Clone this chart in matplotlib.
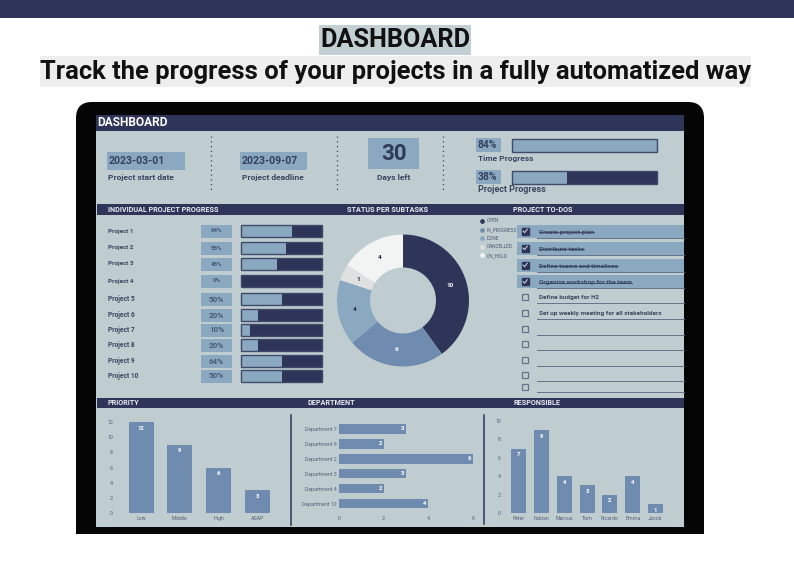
import math
import matplotlib
matplotlib.use("Agg")
import matplotlib.pyplot as plt
from matplotlib.patches import Rectangle, FancyBboxPatch

plt.rcParams['font.family'] = ['Roboto', 'DejaVu Sans']

W, H = 794, 567
NAVY = '#2f3459'
SCREEN = '#c0cdd0'
BOX = '#8aa8c0'
BAR = '#6f8cb0'
TXT = '#3a4560'
TICK = '#56617a'
RULE = '#64728a'

projects = ['Project 1', 'Project 2', 'Project 3', 'Project 4', 'Project 5',
            'Project 6', 'Project 7', 'Project 8', 'Project 9', 'Project 10']
project_labels = ['64%', '55%', '45%', '0%', '50%', '20%', '10%', '20%', '64%', '50%']
project_fill = [63, 55, 45, 0, 50, 21, 11, 21, 50, 50]

overall_names = ['Time Progress', 'Project Progress']
overall_labels = ['84%', '38%']
overall_fill = [100, 38]

status_names = ['OPEN', 'IN_PROGRESS', 'DONE', 'CANCELLED', 'ON_HOLD']
status_values = [10, 6, 4, 1, 4]
status_colors = [NAVY, BAR, BOX, '#dfe1e1', '#f2f3f3']
status_text = ['white', 'white', '#1f2540', '#1f2540', '#1f2540']

todos_done = ['Create project plan', 'Distribute tasks', 'Define teams and timelines',
              'Organize workshop for the team']
todos_open = ['Define budget for H2', 'Set up weekly meeting for all stakeholders',
              '', '', '', '', '']

priority_names = ['Low', 'Middle', 'High', 'ASAP']
priority_values = [12, 9, 6, 3]

dept_names = ['Department 7', 'Department 9', 'Department 2', 'Department 3',
              'Department 4', 'Department 10']
dept_values = [3, 2, 6, 3, 2, 4]

resp_names = ['Peter', 'Fabian', 'Marcus', 'Tom', 'Ricardo', 'Emma', 'Jacob']
resp_values = [7, 9, 4, 3, 2, 4, 1]

fig = plt.figure(figsize=(W / 100, H / 100), dpi=100, facecolor='white')


def px_axes(x0, y0, x1, y1, z=2):
    a = fig.add_axes([x0 / W, 1 - y1 / H, (x1 - x0) / W, (y1 - y0) / H], zorder=z)
    a.patch.set_alpha(0)
    return a


page = px_axes(0, 0, W, H, z=1)
page.set_xlim(0, W)
page.set_ylim(H, 0)
page.axis('off')


def rect(x0, y0, x1, y1, color, z=1, **kw):
    page.add_patch(Rectangle((x0, y0), x1 - x0, y1 - y0, facecolor=color,
                             edgecolor='none', zorder=z, **kw))


def text(x, y, s, size, color=TXT, weight='bold', ha='left', z=6, **kw):
    page.text(x, y, s, fontsize=size, color=color, fontweight=weight, ha=ha,
              va='center', zorder=z, **kw)


# page furniture
rect(0, 0, W, 18, NAVY)
rect(319, 25, 471, 55, '#c3d0d3')
rect(40, 56, 751, 87, '#eeeeee')
text(395, 40, 'DASHBOARD', 18.2, color='#111111', ha='center')
text(395.5, 72, 'Track the progress of your projects in a fully automatized way', 18.4,
     color='#111111', ha='center')

# laptop
page.add_patch(FancyBboxPatch((90, 116), 600, 500, boxstyle='round,pad=14,rounding_size=16',
                              facecolor='#050505', edgecolor='none', zorder=1))
rect(60, 534, 730, 567, 'white', z=1.5)
rect(96, 115, 684, 527, SCREEN, z=2)

# header bars
rect(96, 115, 684, 131, NAVY, z=3)
text(97.5, 123, 'DASHBOARD', 8.6, color='white')
rect(97, 204, 684, 215, NAVY, z=3)
for x, s in [(108, 'INDIVIDUAL PROJECT PROGRESS'), (347, 'STATUS PER SUBTASKS'), (513, 'PROJECT TO-DOS')]:
    text(x, 209.7, s, 5.2, color='#e8ecf0')
rect(97, 398, 684, 408, NAVY, z=3)
for x, s in [(108, 'PRIORITY'), (308, 'DEPARTMENT'), (513, 'RESPONSIBLE')]:
    text(x, 403, s, 5.2, color='#e8ecf0')

# KPI row
rect(107, 152, 185, 170, BOX, z=3)
text(108.5, 161.5, '2023-03-01', 7.6, color='#34405e')
text(108.5, 177.5, 'Project start date', 6.1)
rect(240, 152, 307, 170, BOX, z=3)
text(242, 161.5, '2023-09-07', 7.6, color='#34405e')
text(242, 177.5, 'Project deadline', 6.1)
rect(368, 138, 419, 169, BOX, z=3)
text(393.5, 154, '30', 16, color='#2e3a58', ha='center')
text(393.5, 177.5, 'Days left', 6.1, ha='center')
for x in (211, 337, 443):
    page.plot([x, x], [136, 191], color='#3a4560', lw=0.9, ls=(0, (1, 2.8)), zorder=4)


def progress(a, ys, fills, height):
    n = len(ys)
    a.barh(ys, [100] * n, height=height, color=NAVY, clip_on=False)
    a.barh(ys, fills, height=height, color=BOX, clip_on=False)
    a.barh(ys, [100] * n, height=height, color='none', edgecolor='#3f4a6a', lw=1.0, clip_on=False)


# overall progress
ax = px_axes(512, 130, 657, 196, z=4)
ax.set_xlim(0, 100)
ax.set_ylim(196, 130)
ax.axis('off')
overall_y = [145, 177]
progress(ax, overall_y, overall_fill, 13)
for y, lab, name, fs in zip(overall_y, overall_labels, overall_names, [6.0, 6.5]):
    rect(476, y - 7, 501, y + 7, BOX, z=3)
    text(477.5, y + 0.3, lab, 7.4, color='#34405e')
    text(477.5, y + 13, name, fs)

# individual progress
row_y = [231, 248, 264, 281, 299, 315, 330, 345, 361, 376]
ax = px_axes(241, 215, 322, 395, z=4)
ax.set_xlim(0, 100)
ax.set_ylim(395, 215)
ax.axis('off')
progress(ax, row_y, project_fill, 12)
for i, (y, name, lab) in enumerate(zip(row_y, projects, project_labels)):
    rect(201, y - 6.5, 232, y + 6.5, BOX, z=3)
    text(108, y, name, 4.5 if i < 4 else 4.8)
    text(216.5, y, lab, 4.4 if i < 4 else 5.8, ha='center', color='#4a5a78')

# donut
ax = px_axes(337, 234.5, 469, 366.5, z=4)
wedges, _ = ax.pie(status_values, colors=status_colors, startangle=90, counterclock=False,
                   radius=1.0, wedgeprops=dict(width=0.5, linewidth=0))
ax.set_xlim(-1, 1)
ax.set_ylim(-1, 1)
for w, v, c in zip(wedges, status_values, status_text):
    ang = math.radians((w.theta1 + w.theta2) / 2)
    ax.text(0.75 * math.cos(ang), 0.75 * math.sin(ang), str(v), ha='center', va='center',
            fontsize=4.6, fontweight='bold', color=c)

# donut legend
for i, (name, c) in enumerate(zip(status_names, status_colors)):
    y = 221 + i * 8.6
    page.plot([481.5], [y], 'o', ms=3.4, color=c, zorder=5, mew=0)
    text(487, y, name, 3.4, weight='normal', color='#4a5570')

# to-dos
done_y = [231, 248, 265, 281.5]
for y, s in zip(done_y, todos_done):
    rect(517, y - 6.5, 684, y + 6.5, BOX, z=3)
    page.plot([537, 684], [y + 6.5, y + 6.5], color=RULE, lw=0.7, zorder=4)
    page.add_patch(Rectangle((521.5, y - 3.5), 7, 7, facecolor=NAVY, edgecolor=NAVY, zorder=5))
    page.plot([523, 524.6, 527.3], [y, y + 1.6, y - 1.8], color='#d8e0e8', lw=0.7, zorder=6)
    t = page.text(539, y + 1.2, s, fontsize=4.6, color=TXT, fontweight='bold', va='center', zorder=6)
    fig.canvas.draw()
    bb = t.get_window_extent().transformed(page.transData.inverted())
    page.plot([539, bb.x1], [y + 1.4, y + 1.4], color=TXT, lw=0.6, zorder=6)

open_y = [297, 313, 329, 344, 360, 375, 387]
for y, s in zip(open_y, todos_open):
    page.add_patch(Rectangle((522, y - 3), 6, 6, facecolor='none', edgecolor=RULE, lw=0.9, zorder=5))
    line_y = y + 5.5 if y != 387 else y + 5
    page.plot([537, 684], [line_y, line_y], color=RULE, lw=0.7, zorder=4)
    if s:
        text(539, y + 0.5, s, 4.55)

# separators
page.plot([290.5, 290.5], [415, 525], color=NAVY, lw=1.1, zorder=4)
page.plot([483.5, 483.5], [415, 524], color=NAVY, lw=1.1, zorder=4)


def clean(a, xpad, ypad):
    for s in a.spines.values():
        s.set_visible(False)
    a.tick_params(length=0, labelsize=3.8, labelcolor=TICK)
    a.tick_params(axis='x', pad=xpad)
    a.tick_params(axis='y', pad=ypad)


# priority
ax = px_axes(122, 422, 276.5, 513, z=4)
ax.bar(priority_names, priority_values, width=0.65, color=BAR)
ax.set_xlim(-0.5, 3.5)
ax.set_ylim(0, 12)
ax.set_yticks(range(0, 13, 2))
clean(ax, 2, 6.5)
for i, v in enumerate(priority_values):
    ax.annotate(str(v), (i, v), xytext=(0, -4.5), textcoords='offset points', ha='center', va='center',
                fontsize=4.2, fontweight='bold', color='white')

# department
ax = px_axes(339, 421.5, 473, 511, z=4)
ax.barh(dept_names, dept_values, height=0.64, color=BAR)
ax.set_xlim(0, 6)
ax.set_ylim(5.5, -0.5)
ax.set_xticks(range(0, 7, 2))
clean(ax, 3.3, 1.5)
for i, v in enumerate(dept_values):
    ax.annotate(str(v), (v, i), xytext=(-2.5, 0), textcoords='offset points', ha='center', va='center',
                fontsize=4.2, fontweight='bold', color='white')

# responsible
ax = px_axes(507.3, 421, 667, 513, z=4)
ax.bar(resp_names, resp_values, width=0.66, color=BAR)
ax.set_xlim(-0.5, 6.5)
ax.set_ylim(0, 10)
ax.set_yticks(range(0, 11, 2))
clean(ax, 2, 4.5)
for i, v in enumerate(resp_values):
    ax.annotate(str(v), (i, v), xytext=(0, -4.5), textcoords='offset points', ha='center', va='center',
                fontsize=4.2, fontweight='bold', color='white')

fig.savefig('out.png', dpi=100, facecolor='white')
